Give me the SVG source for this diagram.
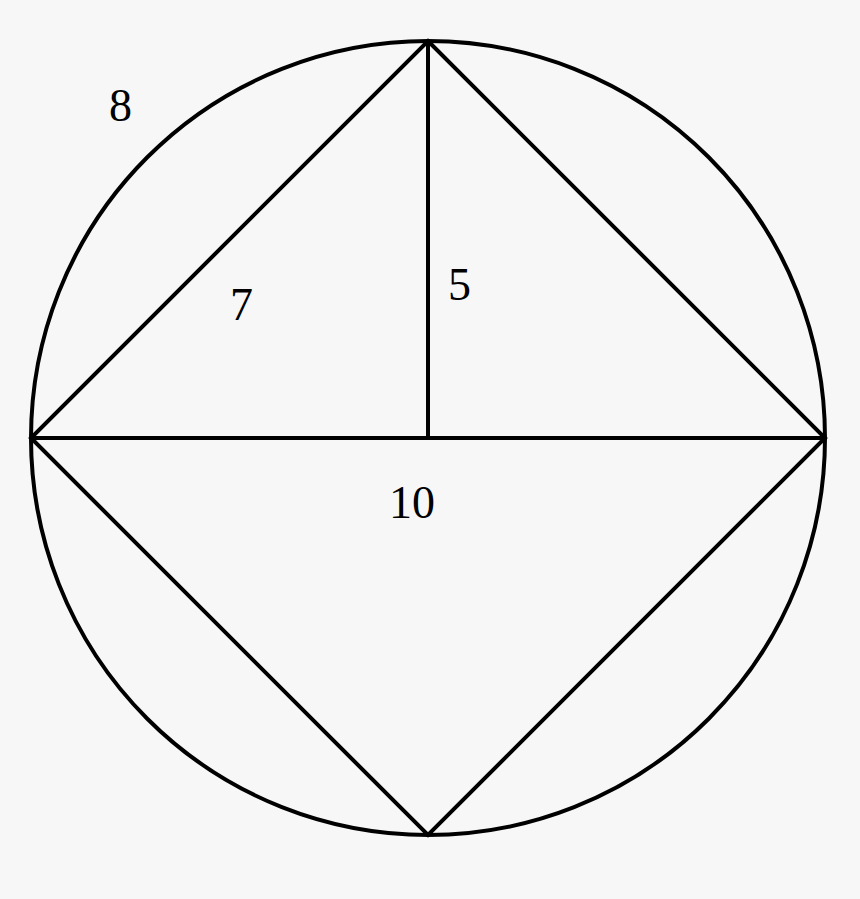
<svg xmlns="http://www.w3.org/2000/svg" width="860" height="899" viewBox="0 0 860 899">
<style>
.ln{stroke:#000;stroke-width:4;fill:none;stroke-linejoin:miter}
.lb{font-family:"Liberation Serif",serif;font-size:46px;fill:#000}
</style>
<rect width="860" height="899" fill="#f7f7f7"/>
<g id="circle"><circle class="ln" cx="428" cy="438" r="397"/></g>
<g id="connectors">
<polygon class="ln" points="428,41 825,438 428,835 31,438"/>
<line class="ln" x1="31" y1="438" x2="825" y2="438"/>
<line class="ln" x1="428" y1="41" x2="428" y2="438"/>
</g>
<g id="labels">
<text class="lb" x="109" y="121">8</text>
<text class="lb" x="230" y="320">7</text>
<text class="lb" x="448" y="300">5</text>
<text class="lb" x="389" y="518">10</text>
</g>
</svg>
